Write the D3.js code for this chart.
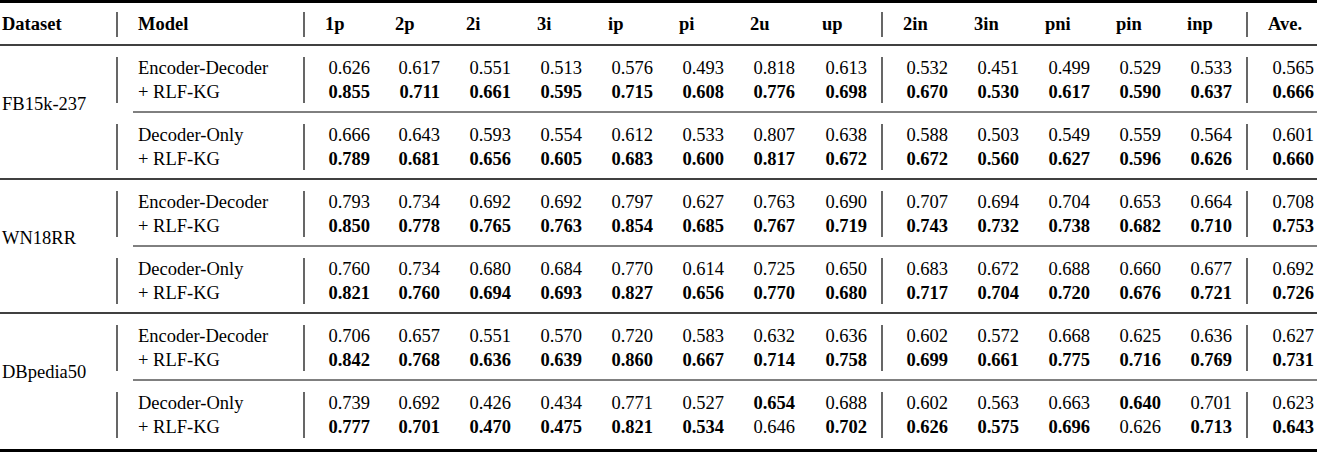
<!DOCTYPE html>
<html><head><meta charset="utf-8">
<script src="https://cdn.jsdelivr.net/npm/d3@7"></script>
<style>body{margin:0;background:#fff}</style></head>
<body><svg id="c" width="1317" height="453"></svg>
<script>
const columns = ["1p","2p","2i","3i","ip","pi","2u","up","2in","3in","pni","pin","inp","Ave."];
const datasets = ["FB15k-237","WN18RR","DBpedia50"];
const models = ["Encoder-Decoder","+ RLF-KG","Decoder-Only","+ RLF-KG"];
const fbValues = [
 [0.626,0.617,0.551,0.513,0.576,0.493,0.818,0.613,0.532,0.451,0.499,0.529,0.533,0.565],
 [0.855,0.711,0.661,0.595,0.715,0.608,0.776,0.698,0.670,0.530,0.617,0.590,0.637,0.666],
 [0.666,0.643,0.593,0.554,0.612,0.533,0.807,0.638,0.588,0.503,0.549,0.559,0.564,0.601],
 [0.789,0.681,0.656,0.605,0.683,0.600,0.817,0.672,0.672,0.560,0.627,0.596,0.626,0.660]];
const wnValues = [
 [0.793,0.734,0.692,0.692,0.797,0.627,0.763,0.690,0.707,0.694,0.704,0.653,0.664,0.708],
 [0.850,0.778,0.765,0.763,0.854,0.685,0.767,0.719,0.743,0.732,0.738,0.682,0.710,0.753],
 [0.760,0.734,0.680,0.684,0.770,0.614,0.725,0.650,0.683,0.672,0.688,0.660,0.677,0.692],
 [0.821,0.760,0.694,0.693,0.827,0.656,0.770,0.680,0.717,0.704,0.720,0.676,0.721,0.726]];
const dbValues = [
 [0.706,0.657,0.551,0.570,0.720,0.583,0.632,0.636,0.602,0.572,0.668,0.625,0.636,0.627],
 [0.842,0.768,0.636,0.639,0.860,0.667,0.714,0.758,0.699,0.661,0.775,0.716,0.769,0.731],
 [0.739,0.692,0.426,0.434,0.771,0.527,0.654,0.688,0.602,0.563,0.663,0.640,0.701,0.623],
 [0.777,0.701,0.470,0.475,0.821,0.534,0.646,0.702,0.626,0.575,0.696,0.626,0.713,0.643]];
const allValues = [fbValues, wnValues, dbValues];
// cells where the base model (not + RLF-KG) is bold: [dataset, pair, column]
const baseBold = [[2,1,"2u"],[2,1,"pin"]];

const svg = d3.select("#c");
const F = "'Liberation Serif','Times New Roman',serif";
const colRight = [370,440,511,582,653,724,795,867,948,1019,1090,1161,1232,1314];
const x = d3.scaleOrdinal().domain(columns).range(colRight);
const headerLine = 45, half = 67;
const blockTop = i => headerLine + i*2*half;

function line(x1,x2,y,w){svg.append("line").attr("x1",x1).attr("x2",x2).attr("y1",y).attr("y2",y).attr("stroke","#000").attr("stroke-width",w);}
function vbar(xx,y1,y2){svg.append("line").attr("x1",xx).attr("x2",xx).attr("y1",y1).attr("y2",y2).attr("stroke","#000").attr("stroke-width",1.2);}
function txt(s,xx,y,anchor,bold){svg.append("text").attr("x",xx).attr("y",y).attr("text-anchor",anchor).attr("font-family",F).attr("font-size",18.5).attr("font-weight",bold?"bold":"normal").text(s);}

line(0,1317,1.5,3);
line(0,1317,headerLine,1.6);
datasets.forEach((d,i)=>{ if(i>0) line(0,1317,blockTop(i),1.6); line(133,1317,blockTop(i)+half,1); });
line(0,1317,450.5,3);

txt("Dataset",2,30,"start",true);
txt("Model",138,30,"start",true);
columns.forEach(c=>txt(c,x(c)-(c==="Ave."?46:45),30,"start",true));
[117,304,882,1247].forEach(b=>vbar(b,12,37));

datasets.forEach((d,i)=>{
  const top = blockTop(i);
  txt(d,2,top+half-2,"start",false);
  const vals = allValues[i];
  for(let p=0;p<2;p++){
    const lt = top + p*half;
    [117,304,882,1247].forEach(b=>vbar(b,lt+12,lt+58));
    txt(models[p*2],138,lt+29,"start",false);
    txt(models[p*2+1],138,lt+53,"start",false);
    columns.forEach((c,j)=>{
      const first = baseBold.some(e=>e[0]===i&&e[1]===p&&e[2]===c);
      txt(vals[p*2][j].toFixed(3),x(c),lt+29,"end",first);
      txt(vals[p*2+1][j].toFixed(3),x(c),lt+53,"end",!first);
    });
  }
});
</script></body></html>
